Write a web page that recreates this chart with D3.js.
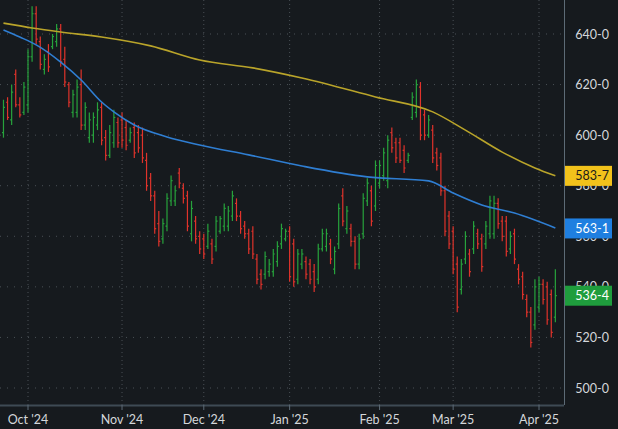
<!DOCTYPE html>
<html><head><meta charset="utf-8">
<script src="https://cdn.jsdelivr.net/npm/d3@7"></script>
<style>body{margin:0;background:#161a1e;overflow:hidden}</style>
</head><body>
<script>
// daily bars: [high, low, open, close]
var bars = [
[614,599,601,611],[615,606,613,607],[620,604,606,617],[626,611,624,612],[615,607,612,608],[621,608,609,619],
[634,609,612,631],[651,629,631,648],[651,636,648,638],[639,626,637,628],[632,624,626,630],[636,625,633,627],
[640,634,635,639],[644,635,637,642],[644,627,642,629],[635,619,630,621],[621,611,620,613],[618,607,609,616],
[622,607,609,619],[626,602,620,604],[613,602,604,611],[609,597,599,606],[609,597,600,607],[613,602,604,610],
[613,596,611,598],[602,590,599,592],[604,591,592,601],[610,595,597,607],[607,595,605,597],[609,595,606,598],
[606,594,603,596],[603,597,598,601],[605,591,603,593],[604,593,601,595],[603,589,600,591],[593,578,590,580],
[585,574,583,576],[578,561,576,563],[570,556,565,558],[567,557,559,565],[577,562,564,575],[584,572,574,582],
[580,572,574,578],[587,579,585,581],[581,573,579,575],[578,562,576,564],[574,558,561,571],[568,557,566,559],
[562,553,560,555],[561,551,559,553],[565,555,556,562],[559,549,557,551],[568,554,556,566],[568,561,562,567],
[573,562,564,571],[572,562,564,570],[578,566,568,576],[575,566,573,568],[570,561,568,563],[566,559,564,561],
[563,553,561,555],[564,551,562,553],[553,541,551,543],[547,539,545,541],[554,543,545,552],[551,544,546,549],
[555,544,546,553],[558,548,550,556],[565,555,557,563],[563,558,559,562],[564,542,562,544],[559,540,557,542],
[555,541,543,553],[555,547,549,553],[552,543,550,545],[551,541,549,543],[549,538,546,540],[557,541,543,555],
[563,554,555,561],[563,554,556,561],[559,549,557,551],[556,545,547,554],[573,555,557,571],[579,564,576,566],
[572,561,563,570],[565,556,563,558],[560,547,558,549],[561,547,549,559],[577,559,561,575],[583,572,574,581],
[580,564,578,566],[590,570,572,588],[590,579,581,588],[595,582,584,593],[600,579,582,598],[603,593,601,595],
[599,589,597,591],[599,589,597,590],[596,585,594,587],[593,589,590,592],[617,606,607,615],[622,607,609,620],
[621,598,619,600],[610,598,608,600],[608,599,600,606],[604,589,602,591],[595,586,593,588],[593,576,591,578],
[580,560,578,562],[570,555,568,557],[564,545,562,547],[552,530,549,532],[551,537,539,549],[562,549,551,560],
[555,544,553,546],[566,553,555,564],[563,555,561,557],[561,546,559,548],[566,555,557,564],[576,559,561,574],
[576,559,561,573],[575,563,573,565],[568,558,566,560],[568,552,566,554],[562,553,555,560],[563,549,561,551],
[549,541,547,543],[546,535,544,537],[537,528,535,530],[532,516,530,518],[543,523,525,540],[544,530,532,541],
[543,533,541,535],[542,525,540,527],[539,520,537,522],[547,526,528,536.5]
];
var ma200Idx = [0,7,14,24,36,48,61,73,91,105,113,122,130,135];
var ma200Val = [644.3,642.4,640.8,638.8,635.3,629.7,626.6,622.6,615.1,609.2,602.0,593.3,587.0,583.9];
var ma100Idx = [0,4,8,14,19,24,27,32,40,48,60,73,89,104,110,117,125,135];
var ma100Val = [641.6,638.8,635.7,628.9,621.8,613.1,609.2,604.0,599.3,596.1,592.2,587.8,583.5,581.9,577.1,572.4,569.2,563.3];
var monthLabels = ["Oct '24","Nov '24","Dec '24","Jan '25","Feb '25","Mar '25","Apr '25"];
var monthIdx = [6,29,49,70,92,110,131];
var priceTicks = [640,620,600,580,560,540,520,500];
var lastLabels = [{v:583.9,t:"583-7",bg:"#f2c21b",fg:"#1a1a1a"},{v:563.1,t:"563-1",bg:"#1f7fe0",fg:"#fff"},{v:536.5,t:"536-4",bg:"#1f9d3d",fg:"#fff"}];

var w = 618, h = 429, plotR = 564, plotB = 405;
var x = d3.scaleLinear().domain([6,131]).range([28,539]);
var y = d3.scaleLinear().domain([500,640]).range([388,34]);

var svg = d3.select("body").append("svg").attr("width", w).attr("height", h)
    .style("font-family","Lato, 'Open Sans', sans-serif");
svg.append("rect").attr("width", w).attr("height", h).attr("fill", "#161a1e");

//grid
svg.selectAll(".hg").data(priceTicks).enter().append("line")
    .attr("x1",0).attr("x2",plotR).attr("y1",d=>y(d)).attr("y2",d=>y(d))
    .attr("stroke","#4a5056").attr("stroke-dasharray","1,6");
svg.selectAll(".vg").data(monthIdx).enter().append("line")
    .attr("x1",d=>x(d)).attr("x2",d=>x(d)).attr("y1",0).attr("y2",plotB)
    .attr("stroke","#4a5056").attr("stroke-dasharray","1,3");

//bars
var g = svg.append("g").selectAll("g").data(bars).enter().append("g")
    .attr("stroke", d => d[3] >= d[2] ? "#27a33c" : "#e0332b").attr("stroke-width",1.2);
g.append("line").attr("x1",(d,i)=>x(i)).attr("x2",(d,i)=>x(i)).attr("y1",d=>y(d[0])).attr("y2",d=>y(d[1]));
g.append("line").attr("x1",(d,i)=>x(i)-1.5).attr("x2",(d,i)=>x(i)).attr("y1",d=>y(d[2])).attr("y2",d=>y(d[2]));
g.append("line").attr("x1",(d,i)=>x(i)).attr("x2",(d,i)=>x(i)+1.5).attr("y1",d=>y(d[3])).attr("y2",d=>y(d[3]));

//moving averages
var line = d3.line().x(d=>x(d[0])).y(d=>y(d[1])).curve(d3.curveMonotoneX);
svg.append("path").attr("d", line(d3.zip(ma200Idx, ma200Val))).attr("fill","none").attr("stroke","#b9a42a").attr("stroke-width",1.6);
svg.append("path").attr("d", line(d3.zip(ma100Idx, ma100Val))).attr("fill","none").attr("stroke","#2f7ed2").attr("stroke-width",1.6);

//axes
svg.append("rect").attr("x",plotR).attr("y",0).attr("width",w-plotR).attr("height",h).attr("fill","#161a1e");
svg.append("rect").attr("x",0).attr("y",plotB).attr("width",w).attr("height",h-plotB).attr("fill","#161a1e");
svg.append("line").attr("x1",plotR+0.5).attr("x2",plotR+0.5).attr("y1",0).attr("y2",plotB).attr("stroke","#5d6b76");
svg.append("line").attr("x1",0).attr("x2",plotR).attr("y1",plotB+0.5).attr("y2",plotB+0.5).attr("stroke","#3e4a54").attr("stroke-width",2);
svg.selectAll(".yl").data(priceTicks).enter().append("text")
    .attr("x",609).attr("y",d=>y(d)+4.5).attr("text-anchor","end").attr("fill","#d4d7da").attr("font-size",12.5)
    .text(d=>d+"-0");
svg.selectAll(".mt").data(monthIdx).enter().append("line")
    .attr("x1",d=>x(d)).attr("x2",d=>x(d)).attr("y1",plotB).attr("y2",plotB+5).attr("stroke","#5d6b76");
svg.selectAll(".xl").data(monthLabels).enter().append("text")
    .attr("x",(d,i)=>x(monthIdx[i])).attr("y",424).attr("text-anchor","middle").attr("fill","#d4d7da").attr("font-size",12.5)
    .text(d=>d);

var lb = svg.selectAll(".lb").data(lastLabels).enter().append("g");
lb.append("rect").attr("x",plotR+1).attr("y",d=>y(d.v)-10).attr("width",47).attr("height",20).attr("fill",d=>d.bg);
lb.append("text").attr("x",609).attr("y",d=>y(d.v)+4.5).attr("text-anchor","end").attr("font-size",12.5)
    .attr("fill",d=>d.fg).text(d=>d.t);
</script>
</body></html>
